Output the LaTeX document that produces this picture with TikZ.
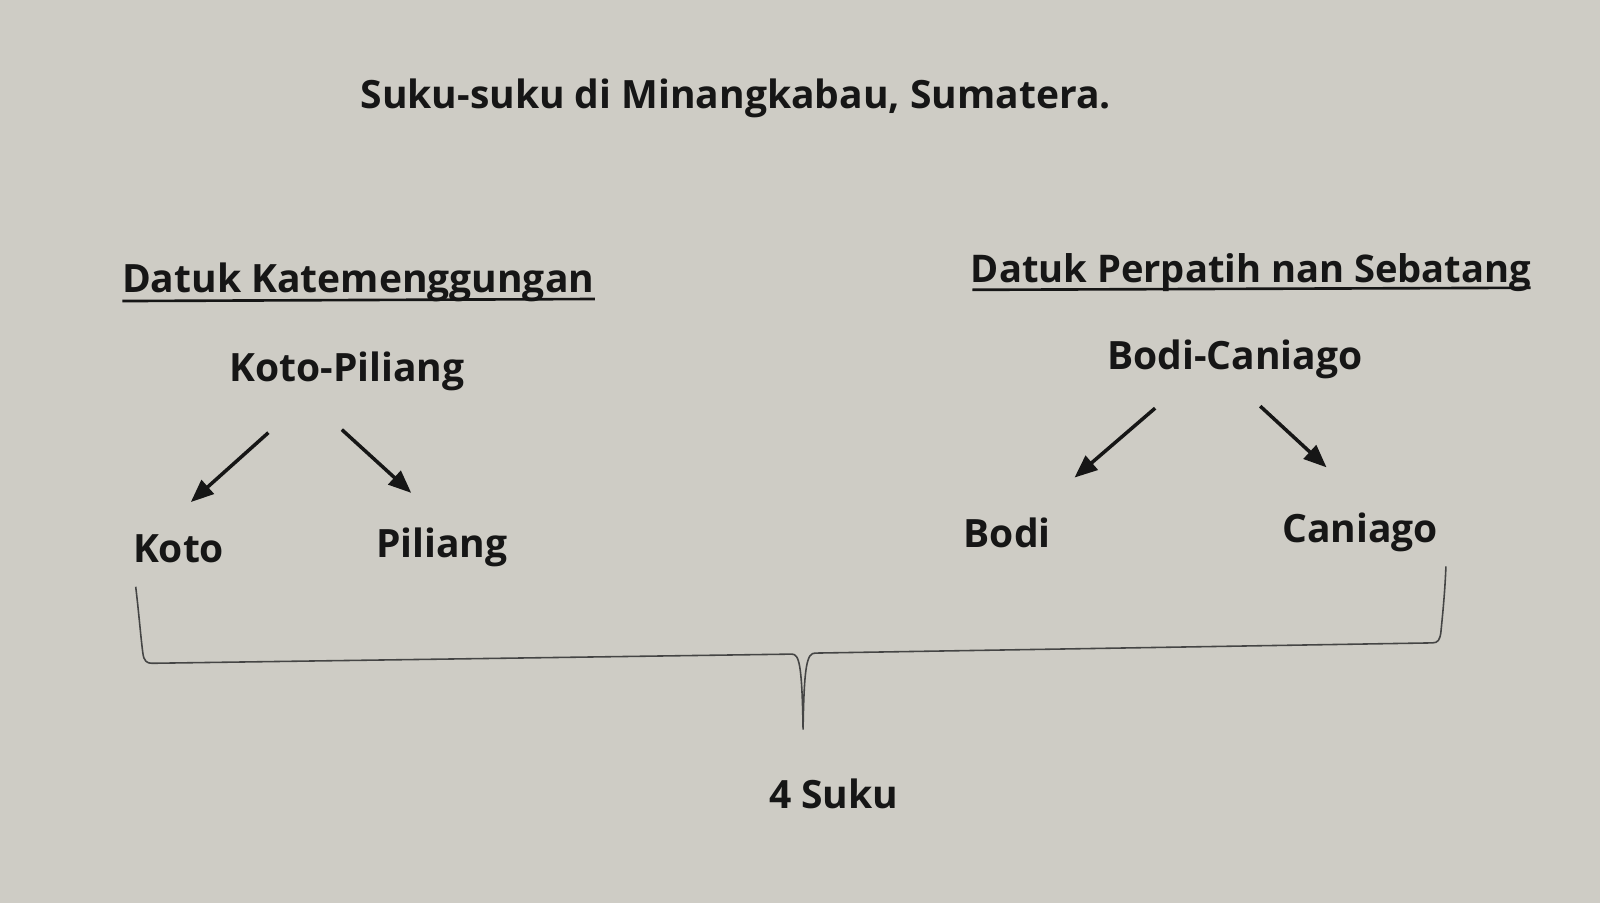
\documentclass[tikz,border=0pt]{standalone}
\usepackage{fontspec}
\setmainfont{Open Sans}
\usetikzlibrary{arrows.meta}
\definecolor{bg}{RGB}{206,204,197}
\definecolor{ink}{RGB}{22,22,22}
\begin{document}
\begin{tikzpicture}[x=0.010204cm,y=-0.010204cm,
  lbl/.style={inner sep=0pt, text=ink, font=\fontsize{11.1}{13}\selectfont\bfseries, anchor=base},
  arr/.style={draw=ink, line width=1pt, -{Triangle[length=6.5pt,width=5.2pt]}},
  uline/.style={draw=ink, line width=0.75pt},
  brace/.style={draw=ink!80, line width=0.45pt}]
\fill[bg] (0,0) rectangle (1568,885);
\useasboundingbox (0,0) rectangle (1568,885);
\node[lbl] (title) at (721,106) {Suku-suku di Minangkabau, Sumatera.};
\node[lbl] (dk) at (351,287) {Datuk Katemenggungan};
\node[lbl, font=\fontsize{10.85}{13}\selectfont\bfseries] (dp) at (1226,277) {Datuk Perpatih nan Sebatang};
\draw[uline] (120,295) -- (583,293);
\draw[uline] (953,284) -- (1500,282);
\node[lbl] (kp) at (340,374) {Koto-Piliang};
\node[lbl] (bc) at (1210,362) {Bodi-Caniago};
\node[lbl] (koto) at (175,551) {Koto};
\node[lbl] (pil) at (433,546) {Piliang};
\node[lbl] (bodi) at (987,537) {Bodi};
\node[lbl] (can) at (1333,532) {Caniago};
\node[lbl] (suku) at (817,792) {4 Suku};
\coordinate (a1s) at (263,424); \coordinate (a1e) at (187,492);
\coordinate (a2s) at (335,421); \coordinate (a2e) at (403,483);
\coordinate (a3s) at (1132,400); \coordinate (a3e) at (1053,468);
\coordinate (a4s) at (1235,398); \coordinate (a4e) at (1300,458);
\draw[arr] (a1s) -- (a1e);
\draw[arr] (a2s) -- (a2e);
\draw[arr] (a3s) -- (a3e);
\draw[arr] (a4s) -- (a4e);
\coordinate (bl) at (133,575);
\coordinate (br) at (1417,555);
\coordinate (bt) at (787,715);
\draw[brace] (bl) .. controls (136,600) and (138,625) .. (140,640)
  .. controls (141,648) and (144,650) .. (149,650)
  -- (776,641)
  .. controls (783,641) and (786,650) .. (bt)
  .. controls (788,650) and (791,640) .. (799,640)
  -- (1404,630)
  .. controls (1409,630) and (1411,627) .. (1412,620)
  .. controls (1414,600) and (1416,580) .. (br);
\end{tikzpicture}
\end{document}
